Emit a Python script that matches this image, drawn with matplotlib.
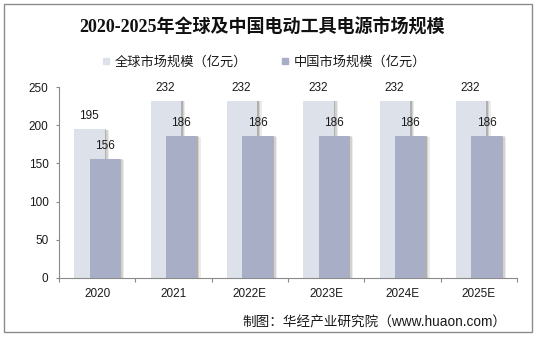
import matplotlib
matplotlib.use("Agg")
import matplotlib.pyplot as plt
import matplotlib.patheffects as pe
from matplotlib.lines import Line2D
from matplotlib.patches import Rectangle
import numpy as np

plt.rcParams['font.family'] = ['Liberation Sans', 'Noto Sans CJK SC', 'DejaVu Sans']

years = ["2020", "2021", "2022E", "2023E", "2024E", "2025E"]
global_market = [195, 232, 232, 232, 232, 232]
china_market = [156, 186, 186, 186, 186, 186]
series_names = ["全球市场规模（亿元）", "中国市场规模（亿元）"]
title_text = "2020-2025年全球及中国电动工具电源市场规模"
source_text = "制图：华经产业研究院（www.huaon.com）"

c_global = "#DDE1E9"
c_china = "#A8AEC5"
axis_color = "#8A8A8A"
cjk = ['Noto Sans CJK SC', 'DejaVu Sans']
latin_cjk = ['Liberation Sans', 'Noto Sans CJK SC', 'DejaVu Sans']

W, H = 537, 339
fig = plt.figure(figsize=(W / 100, H / 100), dpi=100)
ax = fig.add_axes([59 / W, 1 - 278 / H, (517 - 59) / W, (278 - 87) / H])

x = np.arange(len(years))
# soft drop shadow fading to the right of every bar
shadow = [pe.SimplePatchShadow(offset=(3.0, -0.5), shadow_rgbFace="#7a7a7a", alpha=0.14),
          pe.SimplePatchShadow(offset=(2.0, -0.4), shadow_rgbFace="#6a6a6a", alpha=0.2),
          pe.SimplePatchShadow(offset=(1.0, -0.3), shadow_rgbFace="#5a5a5a", alpha=0.28),
          pe.Normal()]
bw = 0.40
b1 = ax.bar(x - 0.1, global_market, bw, color=c_global, zorder=2)
b2 = ax.bar(x + 0.1, china_market, bw, color=c_china, zorder=3)
for b in list(b1) + list(b2):
    b.set_path_effects(shadow)

for xi, v in zip(x, global_market):
    ax.annotate(f"{v}", (xi - 0.11, v), xytext=(0, 5), textcoords="offset points",
                ha="center", va="bottom", fontsize=8.5, color="#1a1a1a", zorder=5)
for xi, v in zip(x, china_market):
    ax.annotate(f"{v}", (xi + 0.1, v), xytext=(0, 5), textcoords="offset points",
                ha="center", va="bottom", fontsize=8.5, color="#1a1a1a", zorder=5)

ax.set_xlim(-0.5, len(years) - 0.5)
ax.set_ylim(0, 250)
ax.set_yticks(range(0, 251, 50))
ax.set_xticks(x)
ax.set_xticklabels(years)
ax.set_xticks(np.arange(-0.5, len(years), 1.0), minor=True)
ax.tick_params(axis="x", which="major", length=0, pad=7, labelsize=8.5, colors="#1a1a1a")
ax.tick_params(axis="x", which="minor", length=3, width=0.8, color=axis_color, direction="out")
ax.tick_params(axis="y", length=2.5, width=0.8, color=axis_color, pad=5, labelsize=8.5, labelcolor="#1a1a1a")

for s in ["top", "right"]:
    ax.spines[s].set_visible(False)
for s in ["left", "bottom"]:
    ax.spines[s].set_color(axis_color)
    ax.spines[s].set_linewidth(0.8)

fig.text(262 / W, 1 - 28 / H, title_text, ha="center", va="center",
         fontsize=13, fontweight="bold", family=['Liberation Serif', 'Noto Sans CJK SC', 'DejaVu Sans'],
         color="#111111")

handles = [Line2D([], [], marker="s", linestyle="none", markersize=4.5, color=c_global),
           Line2D([], [], marker="s", linestyle="none", markersize=4.5, color=c_china)]
leg = fig.legend(handles, series_names, loc="center", bbox_to_anchor=(264 / W, 1 - 62 / H),
                 ncol=2, frameon=False, handlelength=0.6, handletextpad=0.35,
                 columnspacing=2.6, prop={"family": cjk, "size": 9.5})
for t in leg.get_texts():
    t.set_color("#1a1a1a")

fig.text(506 / W, 1 - 323 / H, source_text, ha="right", va="center",
         fontsize=9.8, family=latin_cjk, color="#1a1a1a")

fig.patches.append(Rectangle((4 / W, 1 - 332 / H), (532 - 4) / W, (332 - 4) / H,
                             transform=fig.transFigure, fill=False,
                             edgecolor="#8c8c8c", linewidth=1.0))

fig.savefig("out.png", dpi=100)
